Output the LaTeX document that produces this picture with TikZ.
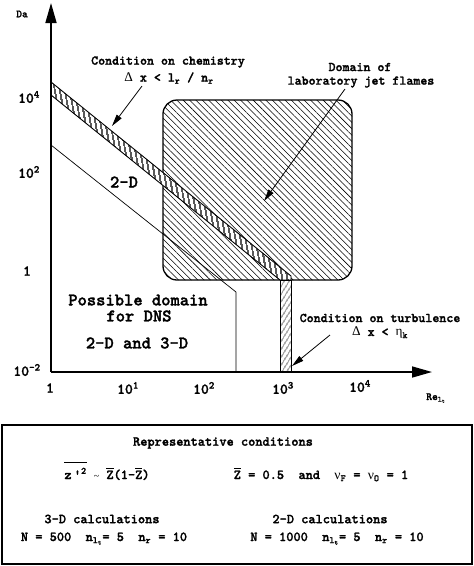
\documentclass[tikz,border=0pt]{standalone}
\usepackage{fontspec}
\newfontfamily\grk{Liberation Serif}
\newfontfamily\cour{lmmonolt10-bold.otf}[FakeBold=1.6]
\usetikzlibrary{arrows.meta,patterns.meta}
\newcommand\barred[2]{\leavevmode\setbox0\hbox{#2}\rlap{\rule[#1]{\wd0}{1.1pt}}\box0\relax}
\newcommand\sbs[1]{\textsubscript{#1}}
\newcommand\sps[1]{\textsuperscript{#1}}
\tikzset{
  lbl/.style={inner sep=0pt, font=\cour\fontsize{13.3}{15}\selectfont},
  big/.style={inner sep=0pt, font=\cour\fontsize{17.7}{20}\selectfont},
  tick/.style={inner sep=0pt, font=\cour\fontsize{15}{17}\selectfont},
  boxtxt/.style={inner sep=0pt, font=\cour\fontsize{13.7}{16}\selectfont},
  axislbl/.style={inner sep=0pt, font=\cour\fontsize{11}{13}\selectfont},
  axis/.style={line width=1.6pt, -{Triangle[length=20pt,width=11pt]}},
  pointer/.style={line width=0.8pt, -{Triangle[length=12pt,width=6pt]}}
}
\begin{document}
\begin{tikzpicture}[x=1pt,y=-1pt]
\useasboundingbox (0,0) rectangle (474,566);
% domain of laboratory jet flames
\draw[line width=1.3pt, rounded corners=14pt,
  pattern={Lines[angle=-45,distance=4.5pt,line width=0.55pt]}]
  (163,100) rectangle (352,280);
% 2-D limit
\draw[line width=0.7pt] (51,145) -- (236,292) -- (236,372);
% chemistry band
\fill[white] (51,82) -- (291,276) -- (291,280) -- (280,280) -- (51,95) -- cycle;
\draw[line width=0.9pt, pattern={Lines[angle=100,distance=4pt,line width=1.3pt]}]
  (51,82) -- (291,276) -- (291,280) -- (280,280) -- (51,95) -- cycle;
% turbulence band
\fill[white] (280,280) rectangle (291,372);
\draw[line width=0.9pt, pattern={Lines[angle=58,distance=4pt,line width=0.7pt]}]
  (280,280) rectangle (291,372);
% axes
\coordinate (O) at (51,372);
\coordinate (ytip) at (51,3);
\coordinate (xtip) at (432,372);
\draw[axis] (O) -- (ytip);
\draw[axis] (O) -- (xtip);
\node[axislbl] (da) at (22,14) {Da};
\node[axislbl] (re) at (436,398) {Re\sbs{l\sbs{t}}};
% tick labels
\node[tick] (y4) at (29,97) {10\sps{4}};
\node[tick] (y2) at (29,172) {10\sps{2}};
\node[tick] (y0) at (27,271) {1};
\node[tick] (ym2) at (27,370) {10\sps{-2}};
\node[tick] (x0) at (50,388) {1};
\node[tick] (x1) at (128,388) {10\sps{1}};
\node[tick] (x2) at (204,388) {10\sps{2}};
\node[tick] (x3) at (283,388) {10\sps{3}};
\node[tick] (x4) at (360,386) {10\sps{4}};
% region labels
\node[big] (twod) at (124,182) {2-D};
\node[big] (pd1) at (138,300) {Possible domain};
\node[big] (pd2) at (139,316) {for DNS};
\node[big] (pd3) at (137,343) {2-D and 3-D};
% annotations
\node[lbl] (chem1) at (168,62) {Condition on chemistry};
\node[lbl] (chem2) at (169,78) {{\grk Δ} x < l\sbs{r} / n\sbs{r}};
\coordinate (chemstart) at (142,86);
\coordinate (chemtip) at (112,126);
\draw[pointer] (chemstart) -- (chemtip);
\node[lbl] (dom1) at (360,67) {Domain of};
\node[lbl] (dom2) at (361,82) {laboratory jet flames};
\coordinate (domstart) at (345,89);
\coordinate (domtip) at (264,201);
\draw[pointer] (domstart) -- (domtip);
\node[lbl] (turb1) at (380,318) {Condition on turbulence};
\node[lbl] (turb2) at (380,333) {{\grk Δ} x < {\grk η}\sbs{k}};
\coordinate (turbstart) at (330,335);
\coordinate (turbtip) at (292,366);
\draw[pointer] (turbstart) -- (turbtip);
% bottom box
\draw[line width=1.6pt] (2,425) rectangle (472,564);
\node[boxtxt] (rep) at (223,443) {Representative conditions};
\node[boxtxt, anchor=base] (f1) at (107,479) {\barred{1.15em}{z\,'\sps{2}} {\grk\fontsize{10}{10}\selectfont\char`\~} \barred{0.72em}{Z}(1-\barred{0.72em}{Z})};
\node[boxtxt, anchor=base] (f2) at (321,479) {\barred{0.72em}{Z} = 0.5\ \ and\ \ {\grk ν}\sbs{F} = {\grk ν}\sbs{O} = 1};
\node[boxtxt] (c3) at (102,519) {3-D calculations};
\node[boxtxt, anchor=base] (n3) at (104,541) {N = 500\ \ n\sbs{l\sbs{t}}= 5\ \ n\sbs{r} = 10};
\node[boxtxt] (c2) at (330,519) {2-D calculations};
\node[boxtxt, anchor=base] (n2) at (337,541) {N = 1000\ \ n\sbs{l\sbs{t}}= 5\ \ n\sbs{r} = 10};
\end{tikzpicture}
\end{document}
